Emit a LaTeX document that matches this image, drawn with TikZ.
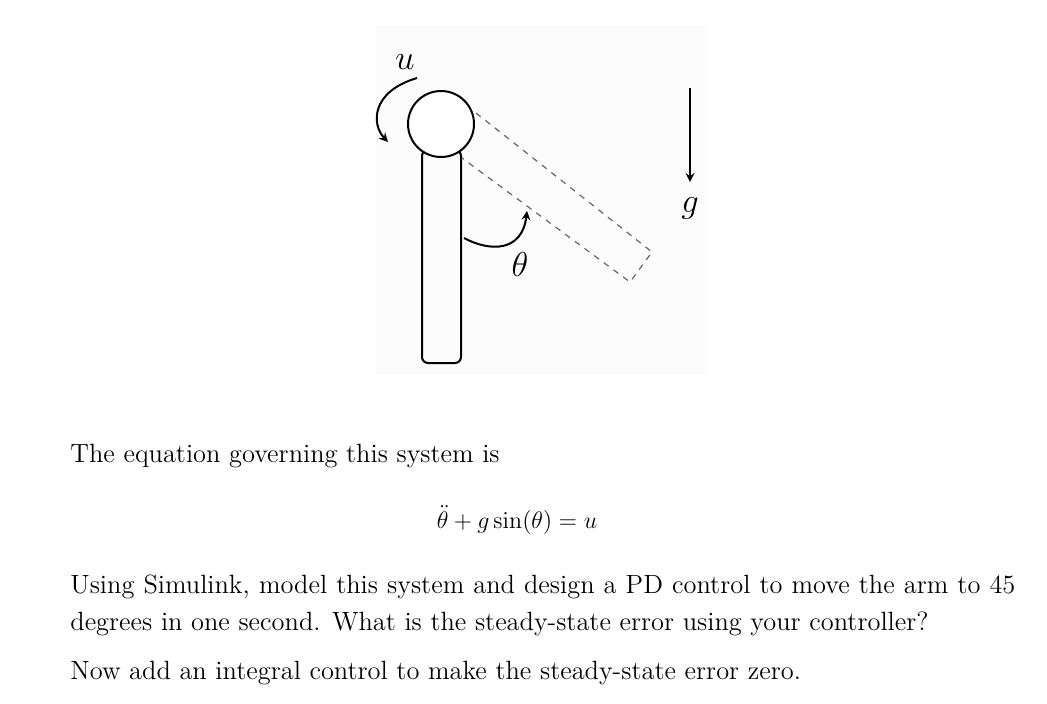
\documentclass[tikz,border=0pt]{standalone}
\usepackage{amsmath}
\begin{document}
\begin{tikzpicture}[x=0.5pt,y=-0.5pt,
 txt/.style={inner sep=0pt,font=\fontsize{13.2}{18.5}\selectfont},
 lab/.style={inner sep=0pt,font=\fontsize{17}{20}\selectfont},
 ln/.style={line width=1pt}]
\useasboundingbox (0,0) rectangle (1047,703);
\fill[black!1] (376,25) rectangle (708,375);
\draw[ln,rounded corners=3pt] (422,150) rectangle (461,363);
\node[draw,circle,ln,fill=white,minimum size=33pt,inner sep=0pt] (c) at (441,124) {};
\draw[dashed,gray!80!black,line width=0.6pt] (476,113) -- (652,252) -- (630,282) -- (462,158);
\coordinate (ua) at (417,78); \coordinate (ub) at (388,142);
\draw[ln,-stealth] (ua) .. controls (370,92) and (372,125) .. (ub);
\node[lab] (u) at (405,62) {$u$};
\coordinate (ga) at (690,88); \coordinate (gb) at (690,182);
\draw[ln,-stealth] (ga) -- (gb);
\node[lab] (g) at (690,208) {$g$};
\coordinate (ta) at (464,238); \coordinate (tb) at (527,211);
\draw[ln,-stealth] (ta) .. controls (490,252) and (522,252) .. (tb);
\node[lab] (th) at (520,264) {$\theta$};
\node[txt,anchor=base west] (l1) at (70,462) {The equation governing this system is};
\node[txt] (eq) at (517,520) {$\ddot{\theta}+g\sin(\theta)=u$};
\node[txt,anchor=north west,text width=472.5pt,align=justify] (p) at (70,574) {Using Simulink, model this system and design a PD control to move the arm to 45\linebreak degrees in one second. What is the steady-state error using your controller?\par\vspace{6pt}\noindent Now add an integral control to make the steady-state error zero.};
\end{tikzpicture}
\end{document}
